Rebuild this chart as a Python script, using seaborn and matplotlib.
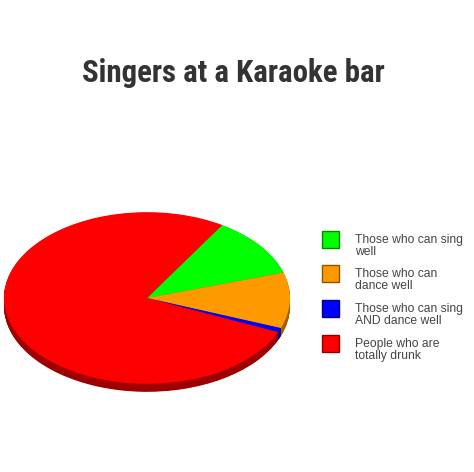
import matplotlib
matplotlib.use("Agg")
import matplotlib.pyplot as plt
import seaborn as sns
from matplotlib.patches import Rectangle
from matplotlib.colors import to_rgb
from matplotlib import font_manager as fm

# ---- data ----
title = "Singers at a Karaoke bar"
categories = ["Those who can sing\nwell",
              "Those who can\ndance well",
              "Those who can sing\nAND dance well",
              "People who are\ntotally drunk"]
shares = [11.4, 10.5, 0.8, 77.3]
colors = ["#00ff00", "#ff9900", "#0000ff", "#ff0000"]

sns.set_theme(style="white")
plt.rcParams["font.family"] = ["Liberation Sans", "DejaVu Sans"]

W, H = 474, 472
fig = plt.figure(figsize=(W / 100, H / 100), dpi=100)
fig.patch.set_facecolor("white")
ax = fig.add_axes([0, 0, 1, 1])

SQ = 0.6            # vertical squash of the tilted pie
cx, cy = 147, H - 298
r = 143
depth = 8


def dark(c, f):
    return tuple(v * f for v in to_rgb(c))


n = 16
for k in range(n, 0, -1):
    off = depth * k / n
    ax.pie(shares, colors=[dark(c, 0.62) for c in colors], startangle=58.3,
           counterclock=False, radius=r, center=(cx, (cy - off) / SQ),
           wedgeprops=dict(linewidth=0))
ax.pie(shares, colors=colors, startangle=58.3, counterclock=False, radius=r,
       center=(cx, cy / SQ), wedgeprops=dict(linewidth=0))
ax.set_aspect("auto")
ax.set_xlim(0, W)
ax.set_ylim(0, H / SQ)
ax.axis("off")


# pick a heavy condensed face for the Impact-like title
def pick_title_font():
    prefs = ["roboto condensed", "liberation sans narrow", "open sans condensed",
             "dejavu sans condensed", "noto sans condensed", "condensed", "narrow"]
    best = None
    best_score = None
    for f in fm.fontManager.ttflist:
        fname = f.fname.lower()
        nm = f.name.lower()
        cond = ("condensed" in fname or "narrow" in fname or
                str(f.stretch) in ("condensed", "semi-condensed", "extra-condensed",
                                   "ultra-condensed", "narrow") or
                (isinstance(f.stretch, int) and f.stretch < 500))
        if not cond:
            continue
        if "italic" in fname or "oblique" in fname or f.style != "normal":
            continue
        try:
            w = int(f.weight)
        except Exception:
            w = {"bold": 700, "heavy": 800, "black": 900}.get(str(f.weight), 400)
        key = nm + " " + fname
        rank = len(prefs)
        for i, p in enumerate(prefs):
            if p in key:
                rank = i
                break
        score = (rank, -min(w, 900))
        if best_score is None or score < best_score:
            best_score = score
            best = f.fname
    if best:
        return fm.FontProperties(fname=best)
    return fm.FontProperties(family="DejaVu Sans", weight="bold")


tfp = pick_title_font()
t = fig.text(233 / W, 1 - 82 / H, title, ha="center", va="baseline",
             fontproperties=tfp, color="#333333")
t.set_fontsize(24)
fig.canvas.draw()
wpx = t.get_window_extent().width
t.set_fontsize(24 * 303 / wpx)

# legend
box_tops = [231, 265, 300, 335]
for lab, col, top in zip(categories, colors, box_tops):
    fig.add_artist(Rectangle((322 / W, 1 - (top + 17) / H), 17 / W, 17 / H,
                             transform=fig.transFigure, facecolor=col,
                             edgecolor=dark(col, 0.55), linewidth=1))
    fig.text(355 / W, 1 - (top + 3) / H, lab, ha="left", va="top",
             fontsize=8.7, color="#444444", linespacing=1.0)

fig.savefig("out.png", dpi=100, facecolor="white")
